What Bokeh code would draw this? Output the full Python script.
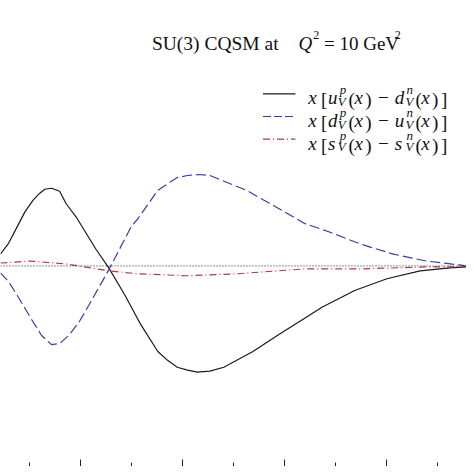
from bokeh.plotting import figure
from bokeh.models import Range1d, FixedTicker, Span
from bokeh.embed import file_html
from bokeh.resources import INLINE
from bokeh.core.properties import value

# ---------------- data ----------------
x_u = [0.044, 0.060, 0.077, 0.092, 0.108, 0.121, 0.131, 0.144, 0.160, 0.173,
       0.192, 0.212, 0.231, 0.256, 0.288, 0.319, 0.352, 0.371, 0.390, 0.410,
       0.429, 0.454, 0.481, 0.538, 0.588, 0.640, 0.673, 0.737, 0.800, 0.865,
       0.923, 0.956]
y_u = [0.012, 0.023, 0.040, 0.055, 0.067, 0.074, 0.078, 0.079, 0.076, 0.063,
       0.050, 0.033, 0.017, -0.002, -0.030, -0.060, -0.087, -0.096, -0.103, -0.106,
       -0.108, -0.107, -0.103, -0.087, -0.070, -0.053, -0.042, -0.025, -0.013, -0.005,
       -0.002, -0.001]

x_d = [0.044, 0.060, 0.077, 0.092, 0.108, 0.125, 0.144, 0.160, 0.179, 0.198,
       0.217, 0.256, 0.300, 0.313, 0.352, 0.390, 0.410, 0.433, 0.454, 0.473,
       0.525, 0.583, 0.640, 0.685, 0.750, 0.813, 0.877, 0.942, 0.956]
y_d = [-0.007, -0.016, -0.030, -0.043, -0.057, -0.071, -0.080, -0.079, -0.070, -0.057,
       -0.040, -0.004, 0.040, 0.048, 0.077, 0.090, 0.092, 0.093, 0.092, 0.088,
       0.077, 0.060, 0.043, 0.035, 0.022, 0.012, 0.005, 0.001, 0.000]

x_s = [0.044, 0.102, 0.173, 0.256, 0.313, 0.410, 0.506, 0.640, 0.750, 0.877, 0.956]
y_s = [0.003, 0.005, 0.002, -0.005, -0.008, -0.010, -0.008, -0.003, -0.003, -0.001, -0.001]

x_ticks_major = [0.2, 0.4, 0.6, 0.8]
x_ticks_minor = [0.1, 0.3, 0.5, 0.7, 0.9]

title_text = ["SU(3) CQSM at", "Q", "2", "= 10 GeV", "2"]
legend_letters = [("u", "p", "d", "n"), ("d", "p", "u", "n"), ("s", "p", "s", "n")]
legend_colors = ["#1a1a1a", "#3c3ca8", "#b03a48"]
legend_dashes = ["solid", "8 3", "7 3 1 3"]

# ---------------- helpers: reference pixel -> data ----------------
def PX(p):
    return (p + 23) / 520.0

def PY(q):
    return (270 - q) / 1000.0

p = figure(width=466, height=466, output_backend="svg", toolbar_location=None,
           x_range=Range1d(PX(0), PX(474)), y_range=Range1d(PY(474), PY(0)),
           min_border=0, min_border_left=0, min_border_right=0,
           min_border_top=0, min_border_bottom=0)
p.outline_line_color = None
p.grid.visible = False
p.yaxis.visible = False
ax = p.xaxis[0]
ax.ticker = FixedTicker(ticks=x_ticks_major, minor_ticks=x_ticks_minor)
ax.axis_line_color = None
ax.major_tick_in = 7
ax.major_tick_out = 0
ax.minor_tick_in = 4
ax.minor_tick_out = 0
ax.major_tick_line_color = "#222222"
ax.minor_tick_line_color = "#222222"
ax.major_label_overrides = {t: "" for t in x_ticks_major}
ax.major_label_standoff = 0

p.add_layout(Span(location=0, dimension="width", line_color="#222222",
                  line_dash="1 2", line_width=1))

p.line(x_u, y_u, line_color=legend_colors[0], line_width=1.2)
p.line(x_d, y_d, line_color=legend_colors[1], line_width=1.2, line_dash="10 4")
p.line(x_s, y_s, line_color=legend_colors[2], line_width=1.2, line_dash="7 3 1 3")

FONT = value("Liberation Serif")

# title
tx = [154, 303, 318, 329, 401]
ty = [44, 44, 35, 44, 35]
tsz = ["19.5px", "19px", "12px", "19px", "12px"]
tst = ["normal", "italic", "normal", "normal", "normal"]
for t, a, b, s, st in zip(title_text, tx, ty, tsz, tst):
    p.text(x=[PX(a)], y=[PY(b)], text=[t], text_font=FONT, text_font_size=s,
           text_font_style=st, text_color="#111111", text_baseline="alphabetic",
           text_align="left")

# legend
base_rows = [99, 122, 145]
line_rows = [95, 118, 141]
for i, (l1, s1, l2, s2) in enumerate(legend_letters):
    b = base_rows[i]
    p.line([PX(267), PX(300)], [PY(line_rows[i])] * 2, line_color=legend_colors[i],
           line_width=1.2, line_dash=legend_dashes[i])
    pieces = [
        ("x", 313, b, "19px", "italic"),
        ("[", 326, b + 2, "19px", "normal"),
        (l1, 333, b, "19px", "italic"),
        (s1, 345, b - 8, "13px", "italic"),
        ("V", 343, b + 4, "13px", "italic"),
        ("(", 354, b + 2, "19px", "normal"),
        ("x", 360, b, "19px", "italic"),
        (")", 371, b + 2, "19px", "normal"),
        ("\u2212", 384, b, "19px", "normal"),
        (l2, 401, b, "19px", "italic"),
        (s2, 413, b - 8, "13px", "italic"),
        ("V", 412, b + 4, "13px", "italic"),
        ("(", 422, b + 2, "19px", "normal"),
        ("x", 428, b, "19px", "italic"),
        (")", 439, b + 2, "19px", "normal"),
        ("]", 448, b + 2, "19px", "normal"),
    ]
    for t, a, yy, s, st in pieces:
        p.text(x=[PX(a)], y=[PY(yy)], text=[t], text_font=FONT, text_font_size=s,
               text_font_style=st, text_color="#111111", text_baseline="alphabetic",
               text_align="left")

open("out.html", "w").write(file_html(p, INLINE))
